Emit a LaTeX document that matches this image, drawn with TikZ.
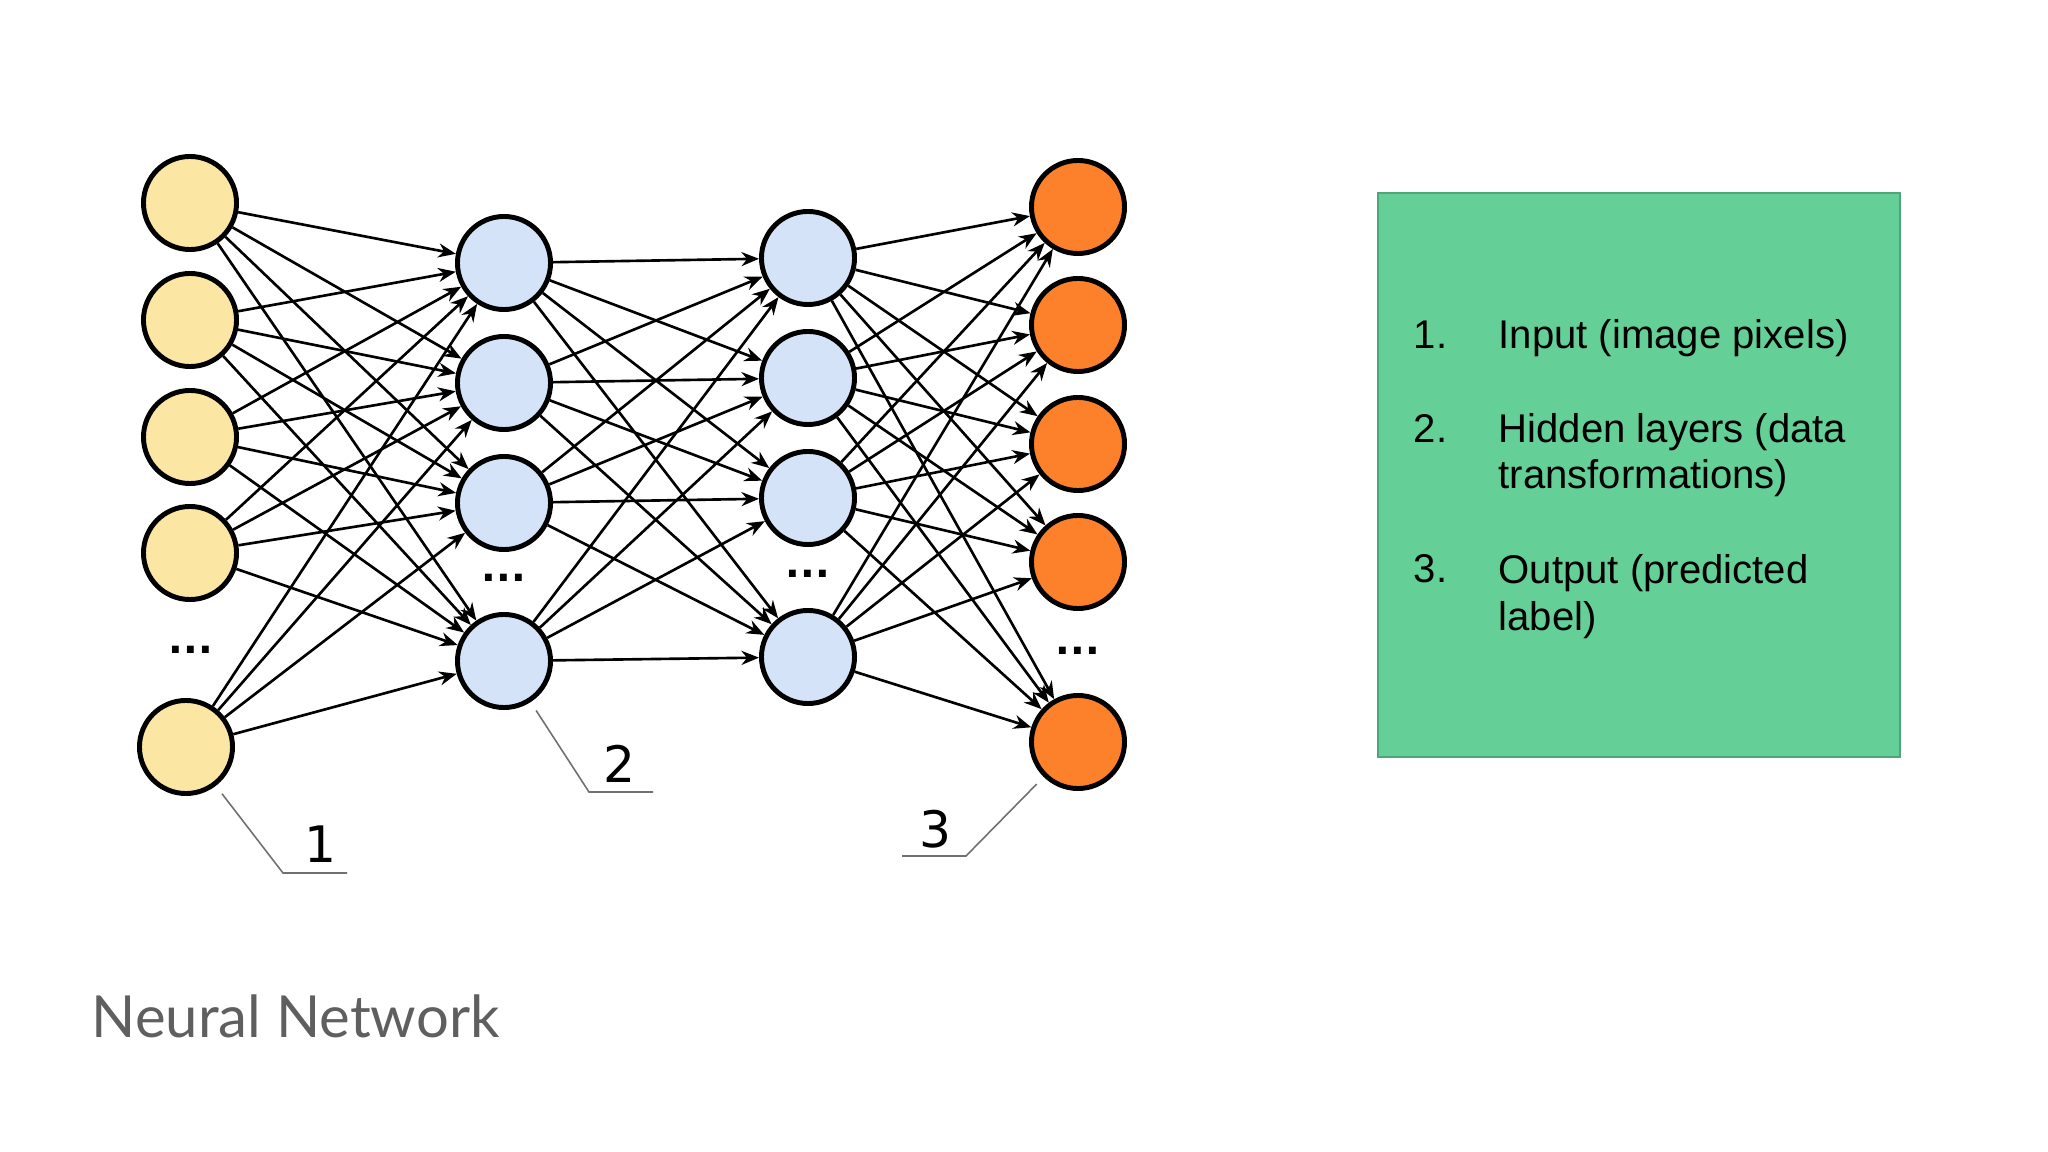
\documentclass[tikz,border=0pt]{standalone}
\usepackage{fontspec}
\setmainfont{Liberation Sans}
\newfontfamily\numfont{DejaVu Sans}
\newfontfamily\titlefont{Lato}
\usetikzlibrary{arrows.meta}

\definecolor{inputyellow}{HTML}{FBE7A3}
\definecolor{hiddenblue}{HTML}{D5E3F9}
\definecolor{outputorange}{HTML}{FD812B}
\definecolor{notegreen}{HTML}{64D098}
\definecolor{noteborder}{HTML}{4FA579}
\definecolor{titlegray}{HTML}{5F5F5F}
\definecolor{leadergray}{HTML}{707070}

\tikzset{
  neuron/.style={draw, circle, line width=1.4pt, minimum size=0.93cm, inner sep=0pt},
  skipdots/.style={font=\numfont\bfseries\fontsize{11}{11}\selectfont, inner sep=0pt},
  edge/.style={line width=0.75pt},
  leader/.style={draw=leadergray, line width=0.45pt},
  numlabel/.style={font=\numfont\fontsize{14.3}{15}\selectfont, inner sep=0pt, anchor=base},
  itemtext/.style={font=\fontsize{11.4}{13.1}\selectfont, inner sep=0pt, anchor=base west}
}

\begin{document}
\begin{tikzpicture}[>={Stealth[length=5pt, width=4pt]}, x=0.01cm, y=-0.01cm]
\useasboundingbox (0,0) rectangle (2048,1152);

\node (input_1) [neuron, fill=inputyellow] at (190,203) {};
\node (input_2) [neuron, fill=inputyellow] at (190,320) {};
\node (input_3) [neuron, fill=inputyellow] at (190,437) {};
\node (input_4) [neuron, fill=inputyellow] at (190,553) {};
\node (input_5) [neuron, fill=inputyellow] at (186,747) {};
\node (input_dots) [skipdots] at (191,650) {...};

\node (hidden_a_1) [neuron, fill=hiddenblue] at (504,263) {};
\node (hidden_a_2) [neuron, fill=hiddenblue] at (504,383) {};
\node (hidden_a_3) [neuron, fill=hiddenblue] at (504,503) {};
\node (hidden_a_4) [neuron, fill=hiddenblue] at (504,661) {};
\node (hidden_a_dots) [skipdots] at (504,578) {...};

\node (hidden_b_1) [neuron, fill=hiddenblue] at (808,258) {};
\node (hidden_b_2) [neuron, fill=hiddenblue] at (808,378) {};
\node (hidden_b_3) [neuron, fill=hiddenblue] at (808,498) {};
\node (hidden_b_4) [neuron, fill=hiddenblue] at (808,657) {};
\node (hidden_b_dots) [skipdots] at (808,574) {...};

\node (output_1) [neuron, fill=outputorange] at (1078,207) {};
\node (output_2) [neuron, fill=outputorange] at (1078,325) {};
\node (output_3) [neuron, fill=outputorange] at (1078,444) {};
\node (output_4) [neuron, fill=outputorange] at (1078,562) {};
\node (output_5) [neuron, fill=outputorange] at (1078,742) {};
\node (output_dots) [skipdots] at (1078,651) {...};

\foreach \i in {1,...,5}
  \foreach \j in {1,...,4}
    \draw[->, edge] (input_\i) -- (hidden_a_\j);
\foreach \i in {1,...,4}
  \foreach \j in {1,...,4}
    \draw[->, edge] (hidden_a_\i) -- (hidden_b_\j);
\foreach \i in {1,...,4}
  \foreach \j in {1,...,5}
    \draw[->, edge] (hidden_b_\i) -- (output_\j);

\node (label_one) [numlabel] at (320,862) {1};
\node (label_two) [numlabel] at (619,782) {2};
\node (label_three) [numlabel] at (935,847) {3};
\coordinate (tick_one) at (283,873);
\coordinate (tick_two) at (589,792);
\coordinate (tick_three) at (966,856);
\draw[leader, shorten <=0.1cm] (input_5) -- (tick_one) -- (347,873);
\draw[leader, shorten <=0.1cm] (hidden_a_4) -- (tick_two) -- (653,792);
\draw[leader, shorten <=0.1cm] (output_5) -- (tick_three) -- (902,856);

\node (title) [anchor=base west, inner sep=0pt, text=titlegray, font=\titlefont\fontsize{16.5}{17}\selectfont] at (91,1037) {Neural Network};

\node (note_box) [draw=noteborder, fill=notegreen, line width=0.6pt, anchor=north west, inner sep=0pt, minimum width=5.22cm, minimum height=5.64cm] at (1377,192) {};
\node (item_one_num) [itemtext] at (1413,349) {1.};
\node (item_one) [itemtext] at (1498,349) {Input (image pixels)};
\node (item_two_num) [itemtext] at (1413,443) {2.};
\node (item_two) [itemtext, align=left] at (1498,489) {Hidden layers (data\\transformations)};
\node (item_three_num) [itemtext] at (1413,583) {3.};
\node (item_three) [itemtext, align=left] at (1498,630) {Output (predicted\\label)};

\end{tikzpicture}
\end{document}
